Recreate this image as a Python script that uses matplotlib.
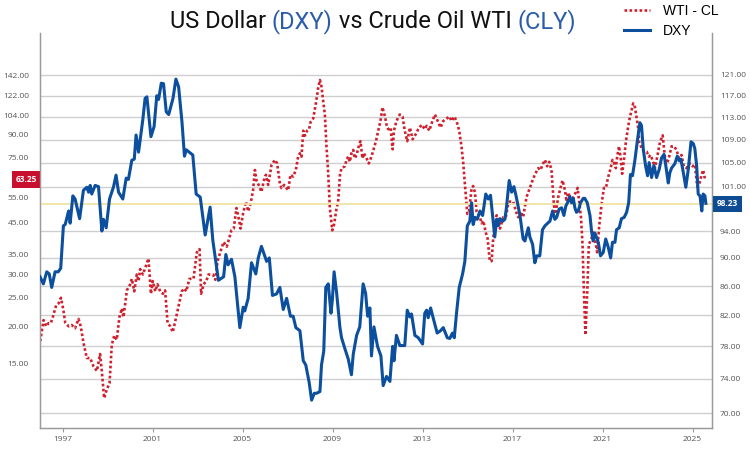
import matplotlib
matplotlib.use("Agg")
import matplotlib.pyplot as plt
from matplotlib.transforms import blended_transform_factory
from matplotlib.ticker import FixedLocator, NullLocator

# US Dollar Index (right axis)
dxy_years = [1996.00, 1996.15, 1996.30, 1996.41, 1996.52, 1996.67, 1996.81, 1996.92, 1997.04, 1997.12,
             1997.27, 1997.34, 1997.46, 1997.56, 1997.76, 1997.93, 1998.08, 1998.16, 1998.23, 1998.30,
             1998.45, 1998.60, 1998.75, 1998.82, 1998.94, 1999.09, 1999.27, 1999.38, 1999.49, 1999.68,
             1999.83, 1999.93, 2000.08, 2000.19, 2000.27, 2000.38, 2000.57, 2000.67, 2000.75, 2000.93,
             2001.07, 2001.19, 2001.27, 2001.39, 2001.49, 2001.61, 2001.72, 2001.91, 2002.04, 2002.16,
             2002.31, 2002.42, 2002.50, 2002.79, 2002.94, 2003.12, 2003.34, 2003.56, 2003.68, 2003.93,
             2004.16, 2004.26, 2004.36, 2004.51, 2004.66, 2004.88, 2005.03, 2005.10, 2005.25, 2005.40,
             2005.59, 2005.70, 2005.84, 2006.07, 2006.19, 2006.33, 2006.51, 2006.66, 2006.81, 2006.96,
             2007.13, 2007.25, 2007.37, 2007.55, 2007.70, 2007.81, 2007.96, 2008.07, 2008.19, 2008.29,
             2008.44, 2008.51, 2008.61, 2008.70, 2008.81, 2008.93, 2008.99, 2009.07, 2009.18, 2009.33,
             2009.40, 2009.55, 2009.70, 2009.84, 2009.92, 2010.07, 2010.21, 2010.36, 2010.47, 2010.56,
             2010.66, 2010.73, 2010.84, 2011.00, 2011.15, 2011.25, 2011.40, 2011.55, 2011.67, 2011.73,
             2011.84, 2011.99, 2012.21, 2012.32, 2012.44, 2012.51, 2012.66, 2012.81, 2013.00, 2013.10,
             2013.18, 2013.25, 2013.36, 2013.47, 2013.65, 2013.80, 2013.92, 2014.10, 2014.21, 2014.33,
             2014.41, 2014.51, 2014.63, 2014.78, 2014.88, 2014.99, 2015.10, 2015.18, 2015.25, 2015.33,
             2015.43, 2015.55, 2015.67, 2015.81, 2015.92, 2016.02, 2016.14, 2016.21, 2016.29, 2016.36,
             2016.44, 2016.56, 2016.66, 2016.73, 2016.85, 2016.96, 2017.06, 2017.15, 2017.33, 2017.47,
             2017.55, 2017.70, 2017.77, 2017.89, 2017.99, 2018.07, 2018.21, 2018.33, 2018.44, 2018.59,
             2018.66, 2018.78, 2018.88, 2018.96, 2019.07, 2019.18, 2019.28, 2019.37, 2019.47, 2019.55,
             2019.62, 2019.70, 2019.77, 2019.84, 2019.92, 2020.02, 2020.14, 2020.21, 2020.32, 2020.44,
             2020.51, 2020.58, 2020.66, 2020.81, 2020.91, 2021.03, 2021.14, 2021.25, 2021.36, 2021.44,
             2021.55, 2021.62, 2021.74, 2021.84, 2021.96, 2022.07, 2022.16, 2022.24, 2022.33, 2022.44,
             2022.54, 2022.66, 2022.73, 2022.81, 2022.91, 2023.00, 2023.07, 2023.18, 2023.28, 2023.40,
             2023.52, 2023.62, 2023.73, 2023.81, 2023.92, 2023.99, 2024.07, 2024.21, 2024.32, 2024.41,
             2024.48, 2024.59, 2024.70, 2024.81, 2024.93, 2025.03, 2025.10, 2025.18, 2025.25, 2025.33,
             2025.41, 2025.47, 2025.55, 2025.59]
dxy_values = [87.3, 86.3, 88.0, 87.7, 85.8, 88.0, 88.0, 88.5, 94.8, 95.0,
              97.1, 95.2, 99.5, 99.0, 95.9, 100.4, 100.9, 100.1, 101.2, 99.8,
              101.2, 101.0, 94.0, 95.8, 94.5, 99.0, 101.0, 102.9, 100.1, 99.0,
              102.4, 102.2, 105.4, 105.6, 109.8, 106.8, 112.6, 116.5, 116.8, 109.5,
              111.3, 117.0, 116.3, 119.4, 119.3, 114.0, 113.5, 116.5, 120.2, 118.7,
              112.1, 106.1, 107.2, 106.3, 99.8, 99.3, 93.4, 97.7, 92.6, 86.8,
              87.3, 90.5, 89.0, 89.8, 87.3, 80.4, 83.1, 82.6, 84.3, 89.3,
              87.7, 90.0, 91.7, 89.5, 90.0, 84.7, 84.9, 85.8, 82.8, 84.3,
              81.9, 81.9, 80.4, 80.0, 76.2, 75.7, 73.6, 71.5, 72.3, 72.3,
              72.5, 75.7, 77.4, 85.8, 86.3, 82.3, 84.0, 88.0, 85.1, 80.4,
              79.1, 77.7, 76.4, 74.5, 77.0, 79.4, 80.5, 86.3, 85.0, 81.9,
              83.0, 76.8, 80.5, 78.0, 76.8, 73.2, 74.3, 73.7, 78.0, 76.2,
              79.4, 78.1, 78.1, 82.7, 81.8, 82.2, 79.4, 79.1, 78.3, 82.3,
              82.7, 81.7, 83.0, 81.7, 79.7, 80.0, 80.4, 79.1, 79.0, 79.7,
              79.1, 82.3, 85.8, 87.7, 89.5, 94.8, 95.5, 98.4, 95.0, 96.1,
              95.8, 97.1, 96.4, 99.8, 99.0, 99.6, 95.5, 93.1, 95.8, 94.8,
              95.9, 95.5, 95.8, 97.7, 102.0, 100.1, 101.0, 99.6, 96.4, 92.8,
              92.5, 94.5, 93.1, 92.0, 89.3, 90.3, 90.3, 94.2, 94.8, 95.3,
              95.5, 97.1, 95.8, 96.1, 97.4, 97.6, 96.4, 97.9, 98.6, 99.4,
              98.4, 99.1, 97.6, 96.9, 97.1, 98.4, 99.1, 99.1, 98.4, 96.4,
              94.0, 92.5, 93.7, 92.3, 90.3, 90.8, 92.8, 91.6, 90.0, 92.3,
              92.3, 94.2, 94.5, 95.9, 96.1, 96.9, 98.4, 103.0, 102.8, 105.5,
              108.6, 112.0, 111.5, 107.3, 104.5, 102.8, 105.0, 102.5, 104.5, 102.5,
              103.9, 105.8, 106.4, 104.5, 101.6, 103.3, 104.1, 104.8, 106.1, 105.3,
              105.6, 103.3, 100.9, 103.9, 108.6, 108.3, 107.4, 104.5, 99.8, 99.5,
              97.1, 99.8, 99.5, 98.3]

# WTI crude oil (left axis)
wti_years = [1996.01, 1996.16, 1996.27, 1996.38, 1996.48, 1996.57, 1996.72, 1996.82, 1996.93, 1997.04,
             1997.12, 1997.27, 1997.41, 1997.56, 1997.71, 1997.81, 1997.93, 1998.08, 1998.23, 1998.38,
             1998.53, 1998.67, 1998.75, 1998.85, 1998.97, 1999.09, 1999.19, 1999.30, 1999.41, 1999.53,
             1999.64, 1999.71, 1999.86, 2000.01, 2000.08, 2000.19, 2000.30, 2000.38, 2000.45, 2000.57,
             2000.67, 2000.82, 2000.93, 2001.01, 2001.12, 2001.22, 2001.34, 2001.46, 2001.56, 2001.67,
             2001.79, 2001.90, 2001.96, 2002.08, 2002.20, 2002.30, 2002.41, 2002.50, 2002.64, 2002.82,
             2002.97, 2003.09, 2003.16, 2003.27, 2003.39, 2003.49, 2003.68, 2003.79, 2003.89, 2004.01,
             2004.16, 2004.30, 2004.51, 2004.61, 2004.73, 2004.85, 2004.91, 2005.03, 2005.15, 2005.25,
             2005.36, 2005.47, 2005.55, 2005.62, 2005.74, 2005.84, 2005.95, 2006.04, 2006.14, 2006.29,
             2006.44, 2006.54, 2006.66, 2006.73, 2006.85, 2006.96, 2007.03, 2007.13, 2007.25, 2007.37,
             2007.47, 2007.55, 2007.62, 2007.70, 2007.77, 2007.87, 2007.96, 2008.02, 2008.14, 2008.26,
             2008.36, 2008.44, 2008.51, 2008.58, 2008.66, 2008.73, 2008.81, 2008.88, 2008.99, 2009.06,
             2009.18, 2009.25, 2009.33, 2009.40, 2009.55, 2009.62, 2009.70, 2009.77, 2009.84, 2009.92,
             2009.99, 2010.07, 2010.14, 2010.24, 2010.33, 2010.39, 2010.48, 2010.54, 2010.61, 2010.73,
             2010.84, 2010.93, 2011.03, 2011.13, 2011.22, 2011.33, 2011.40, 2011.47, 2011.58, 2011.67,
             2011.73, 2011.84, 2011.99, 2012.11, 2012.21, 2012.32, 2012.44, 2012.56, 2012.66, 2012.81,
             2012.96, 2013.10, 2013.18, 2013.30, 2013.44, 2013.55, 2013.70, 2013.80, 2013.92, 2014.07,
             2014.19, 2014.29, 2014.41, 2014.51, 2014.63, 2014.73, 2014.81, 2014.88, 2014.99, 2015.07,
             2015.18, 2015.25, 2015.33, 2015.40, 2015.55, 2015.62, 2015.70, 2015.81, 2015.89, 2015.99,
             2016.07, 2016.14, 2016.21, 2016.29, 2016.36, 2016.44, 2016.51, 2016.59, 2016.70, 2016.81,
             2016.88, 2017.03, 2017.15, 2017.25, 2017.40, 2017.47, 2017.62, 2017.77, 2017.89, 2017.99,
             2018.14, 2018.24, 2018.36, 2018.44, 2018.54, 2018.63, 2018.73, 2018.84, 2018.91, 2019.03,
             2019.13, 2019.22, 2019.33, 2019.40, 2019.47, 2019.55, 2019.62, 2019.70, 2019.80, 2019.89,
             2019.96, 2020.04, 2020.11, 2020.17, 2020.24, 2020.32, 2020.39, 2020.51, 2020.59, 2020.70,
             2020.76, 2020.85, 2020.96, 2021.06, 2021.15, 2021.25, 2021.36, 2021.44, 2021.52, 2021.59,
             2021.65, 2021.73, 2021.80, 2021.87, 2021.95, 2022.04, 2022.14, 2022.21, 2022.29, 2022.36,
             2022.44, 2022.51, 2022.59, 2022.63, 2022.73, 2022.84, 2022.96, 2023.06, 2023.13, 2023.22,
             2023.33, 2023.43, 2023.55, 2023.67, 2023.77, 2023.87, 2023.96, 2024.07, 2024.17, 2024.29,
             2024.39, 2024.51, 2024.61, 2024.73, 2024.88, 2025.00, 2025.10, 2025.21, 2025.30, 2025.40,
             2025.47, 2025.55]
wti_values = [17.8, 21.0, 20.0, 20.5, 20.5, 21.5, 23.6, 23.9, 25.0, 22.7,
              20.6, 20.0, 20.2, 19.7, 21.2, 20.0, 17.6, 15.6, 15.6, 14.6,
              14.1, 16.1, 14.0, 11.4, 12.2, 12.8, 17.3, 18.6, 18.0, 21.5,
              23.0, 21.5, 26.5, 27.8, 29.0, 26.3, 30.0, 28.5, 31.3, 30.0,
              31.5, 34.0, 25.8, 28.5, 26.3, 27.8, 26.3, 25.8, 26.5, 20.5,
              20.0, 19.1, 20.0, 22.0, 24.2, 26.3, 26.9, 26.3, 29.0, 29.0,
              35.7, 36.6, 25.8, 27.8, 28.5, 30.0, 30.0, 28.8, 33.3, 35.7,
              38.7, 37.3, 42.5, 43.0, 50.5, 45.8, 43.0, 48.6, 53.1, 49.2,
              52.3, 58.1, 68.0, 62.7, 60.0, 57.3, 62.7, 65.5, 60.5, 70.8,
              73.6, 71.6, 61.1, 59.0, 60.5, 59.0, 58.0, 65.5, 64.6, 68.0,
              75.5, 77.5, 75.5, 92.5, 89.0, 92.5, 93.6, 98.8, 101.7, 114.6,
              128.9, 137.6, 130.5, 117.6, 104.5, 81.9, 66.0, 50.5, 42.4, 44.0,
              50.5, 53.1, 65.5, 69.0, 70.0, 73.6, 75.5, 72.5, 77.5, 79.6,
              74.5, 76.5, 80.7, 85.2, 74.5, 77.5, 75.5, 73.6, 71.6, 75.5,
              80.7, 85.2, 92.5, 99.8, 111.1, 103.3, 96.9, 93.6, 94.8, 80.0,
              92.5, 99.8, 105.0, 103.3, 92.5, 85.2, 94.8, 86.5, 88.9, 93.6,
              96.9, 93.6, 96.1, 92.5, 99.8, 105.0, 98.8, 94.8, 99.8, 101.7,
              103.4, 99.8, 103.3, 99.8, 92.5, 81.9, 71.6, 61.1, 48.2, 49.2,
              59.0, 60.0, 57.0, 49.2, 47.0, 44.8, 45.7, 41.7, 39.8, 33.3,
              33.3, 39.8, 43.8, 47.7, 46.5, 43.0, 44.8, 47.0, 47.0, 52.3,
              53.1, 53.1, 49.2, 47.0, 48.2, 47.0, 55.0, 59.1, 62.7, 65.5,
              69.0, 68.0, 71.6, 73.6, 70.0, 72.5, 68.0, 51.5, 48.2, 55.0,
              59.1, 62.7, 58.0, 53.1, 57.0, 55.0, 52.3, 55.0, 56.9, 59.1,
              53.1, 47.0, 38.0, 26.3, 18.7, 26.3, 38.0, 39.8, 41.7, 38.0,
              35.7, 43.8, 52.3, 59.1, 59.1, 64.4, 69.0, 73.6, 71.6, 69.0,
              75.5, 81.9, 75.5, 66.0, 73.6, 85.2, 95.8, 102.4, 108.8, 114.6,
              111.1, 102.4, 93.6, 84.5, 80.9, 78.5, 78.5, 75.5, 76.5, 73.6,
              69.0, 75.5, 84.5, 89.2, 75.5, 71.6, 75.5, 81.9, 81.9, 79.6,
              74.5, 76.5, 70.0, 69.0, 71.6, 70.0, 71.0, 59.6, 61.1, 65.5,
              68.0, 63.3]

year_ticks = [1997, 2001, 2005, 2009, 2013, 2017, 2021, 2025]
wti_ticks = [15, 20, 25, 30, 35, 45, 55, 75, 90, 104, 122, 142]
dxy_ticks = [70, 74, 78, 82, 86, 90, 94, 101, 105, 109, 113, 117, 121]
wti_last = 63.25
dxy_last = 98.23

RED = "#d0202e"
BLUE = "#0b4f9e"
GRID = "#cfcfcf"
SPINE = "#9a9a9a"
LABEL = "#555555"

fig = plt.figure(figsize=(7.5, 4.5), dpi=100)
ax = fig.add_axes([40 / 750, 22 / 450, 671.7 / 750, 395 / 450])
ax2 = ax.twinx()

ax.set_yscale("log")
ax2.set_yscale("log")
ax.set_xlim(1996.0, 2025.85)
ax.set_ylim(9.02, 198.8)
ax2.set_ylim(68.35, 129.5)

# gridlines follow the right-hand (DXY) ticks, drawn under both series
grid_tr = blended_transform_factory(ax.transAxes, ax2.transData)
for v in dxy_ticks:
    ax.plot([0, 1], [v, v], transform=grid_tr, color=GRID, lw=1.0, zorder=0.5)

wti_line, = ax.plot(wti_years, wti_values, color=RED, lw=1.9,
                    linestyle=(0, (1, 0.9)), dash_capstyle="butt", zorder=2, label="WTI - CL")
ax2.axhline(dxy_last, color="#f2e3a6", lw=1.3, zorder=1)
dxy_line, = ax2.plot(dxy_years, dxy_values, color=BLUE, lw=2.2, zorder=3, label="DXY")

for a in (ax, ax2):
    a.spines["top"].set_visible(False)
    for s in ("left", "right", "bottom"):
        a.spines[s].set_color(SPINE)
        a.spines[s].set_linewidth(0.9)
    a.yaxis.set_minor_locator(NullLocator())

ax.yaxis.set_major_locator(FixedLocator(wti_ticks))
ax.set_yticklabels([f"{v:.2f}" for v in wti_ticks])
ax2.yaxis.set_major_locator(FixedLocator(dxy_ticks))
ax2.set_yticklabels([f"{v:.2f}" for v in dxy_ticks])
ax.tick_params(axis="y", length=0, pad=8, labelsize=6, labelcolor=LABEL)
ax2.tick_params(axis="y", length=0, pad=6, labelsize=6, labelcolor=LABEL)

ax.set_xticks(year_ticks)
ax.set_xticklabels([str(y) for y in year_ticks])
ax.tick_params(axis="x", length=3, width=0.8, color=SPINE, pad=3, labelsize=6, labelcolor=LABEL)

for t in ax.get_yticklabels() + ax2.get_yticklabels() + ax.get_xticklabels():
    t.set_fontfamily("Open Sans")

# last-value boxes
left_tr = blended_transform_factory(ax.transAxes, ax.transData)
ax.text(-0.0045, wti_last, f"{wti_last:.2f}", transform=left_tr, ha="right", va="center",
        color="white", fontsize=6, fontweight="bold", family="Open Sans", clip_on=False,
        bbox=dict(boxstyle="square,pad=0.45", fc="#c8102e", ec="none"))
right_tr = blended_transform_factory(ax2.transAxes, ax2.transData)
ax2.text(1.0075, dxy_last, f"{dxy_last:.2f}", transform=right_tr, ha="left", va="center",
         color="white", fontsize=6, fontweight="bold", family="Open Sans", clip_on=False,
         bbox=dict(boxstyle="square,pad=0.45", fc="#0d4b93", ec="none"))

# legend, top right
fig.legend(handles=[wti_line, dxy_line], loc="upper left", bbox_to_anchor=(624 / 750, 1 - 4 / 450),
           frameon=False, fontsize=10, handlelength=1.9, handletextpad=0.9, labelspacing=0.45,
           borderpad=0, borderaxespad=0, prop={"family": "Liberation Sans", "size": 10})

# title with coloured tickers
parts = [("US Dollar ", "#111111"), ("(DXY)", "#2b5ca8"),
         (" vs Crude Oil WTI ", "#111111"), ("(CLY)", "#2b5ca8")]
title_font = dict(fontsize=17, family=["Liberation Sans Narrow", "Roboto"])
renderer = fig.canvas.get_renderer()


def text_width(s):
    probe = fig.text(0, 0, s + "I", **title_font)
    ref = fig.text(0, 0, "I", **title_font)
    w = probe.get_window_extent(renderer).width - ref.get_window_extent(renderer).width
    probe.remove()
    ref.remove()
    return w


full = "".join(p for p, _ in parts)
total = text_width(full)
x0 = 373 - total / 2
prefix = ""
for s, c in parts:
    x = x0 + text_width(prefix) if prefix else x0
    fig.text(x / 750, 1 - 28 / 450, s, color=c, ha="left", va="baseline", **title_font)
    prefix += s

fig.savefig("out.png", dpi=100)
